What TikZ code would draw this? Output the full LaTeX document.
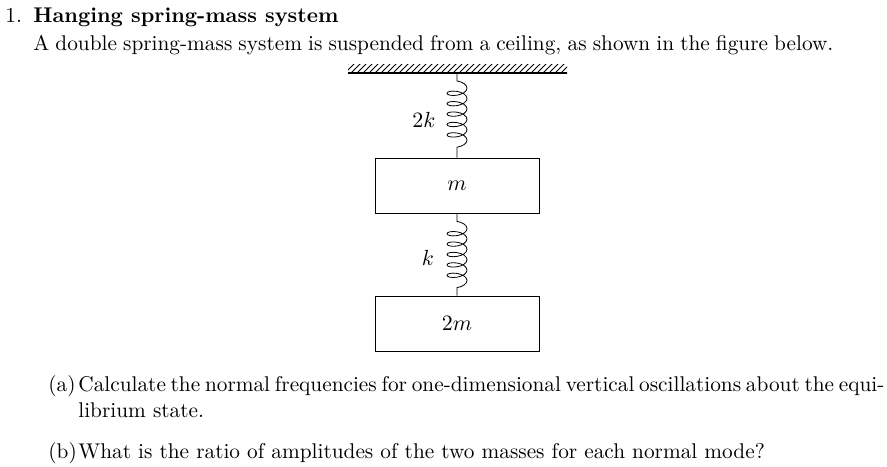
\documentclass[tikz,border=0pt]{standalone}
\usetikzlibrary{decorations.pathmorphing,patterns}
\begin{document}
\begin{tikzpicture}[x=0.5pt,y=-0.5pt,
  txt/.style={anchor=base west,inner sep=0pt,font=\fontsize{10.65}{13}\selectfont},
  massbox/.style={draw,minimum width=82pt,minimum height=27.5pt,inner sep=0pt,font=\fontsize{10.65}{13}\selectfont},
  springy/.style={decorate,decoration={coil,aspect=0.45,segment length=5.2pt,amplitude=5pt,pre length=4pt,post length=4pt}},
  lbl/.style={font=\fontsize{10.65}{13}\selectfont,inner sep=0pt}]
\useasboundingbox (0,0) rectangle (887,466);
\node[txt] (n1) at (5,22) {1.};
\node[txt] (t1) at (33,22) {\bfseries Hanging spring-mass system};
\node[txt] (t2) at (33,50) {\makebox[400pt][s]{A double spring-mass system is suspended from a ceiling, as shown in the figure below.}};
\coordinate (cl) at (348,73);
\coordinate (cr) at (567,73);
\fill[pattern=north east lines] (348,64) rectangle (567,73);
\draw[line width=0.8pt] (cl) -- (cr);
\coordinate (top) at (457,73);
\node[massbox] (m1) at (457,185.5) {$m$};
\node[massbox] (m2) at (457,323.5) {$2m$};
\draw[springy] (top) -- (m1.north);
\draw[springy] (m1.south) -- (m2.north);
\node[lbl] (k2) at (424,120) {$2k$};
\node[lbl] (k1) at (428,258) {$k$};
\node[txt] (a) at (48,391) {(a)};
\node[txt] (a1) at (78,391) {\makebox[400pt][s]{Calculate the normal frequencies for one-dimensional vertical oscillations about the equi-}};
\node[txt] (a2) at (78,417) {librium state.};
\node[txt] (b) at (48,458) {(b)};
\node[txt] (b1) at (78,458) {What is the ratio of amplitudes of the two masses for each normal mode?};
\end{tikzpicture}
\end{document}
